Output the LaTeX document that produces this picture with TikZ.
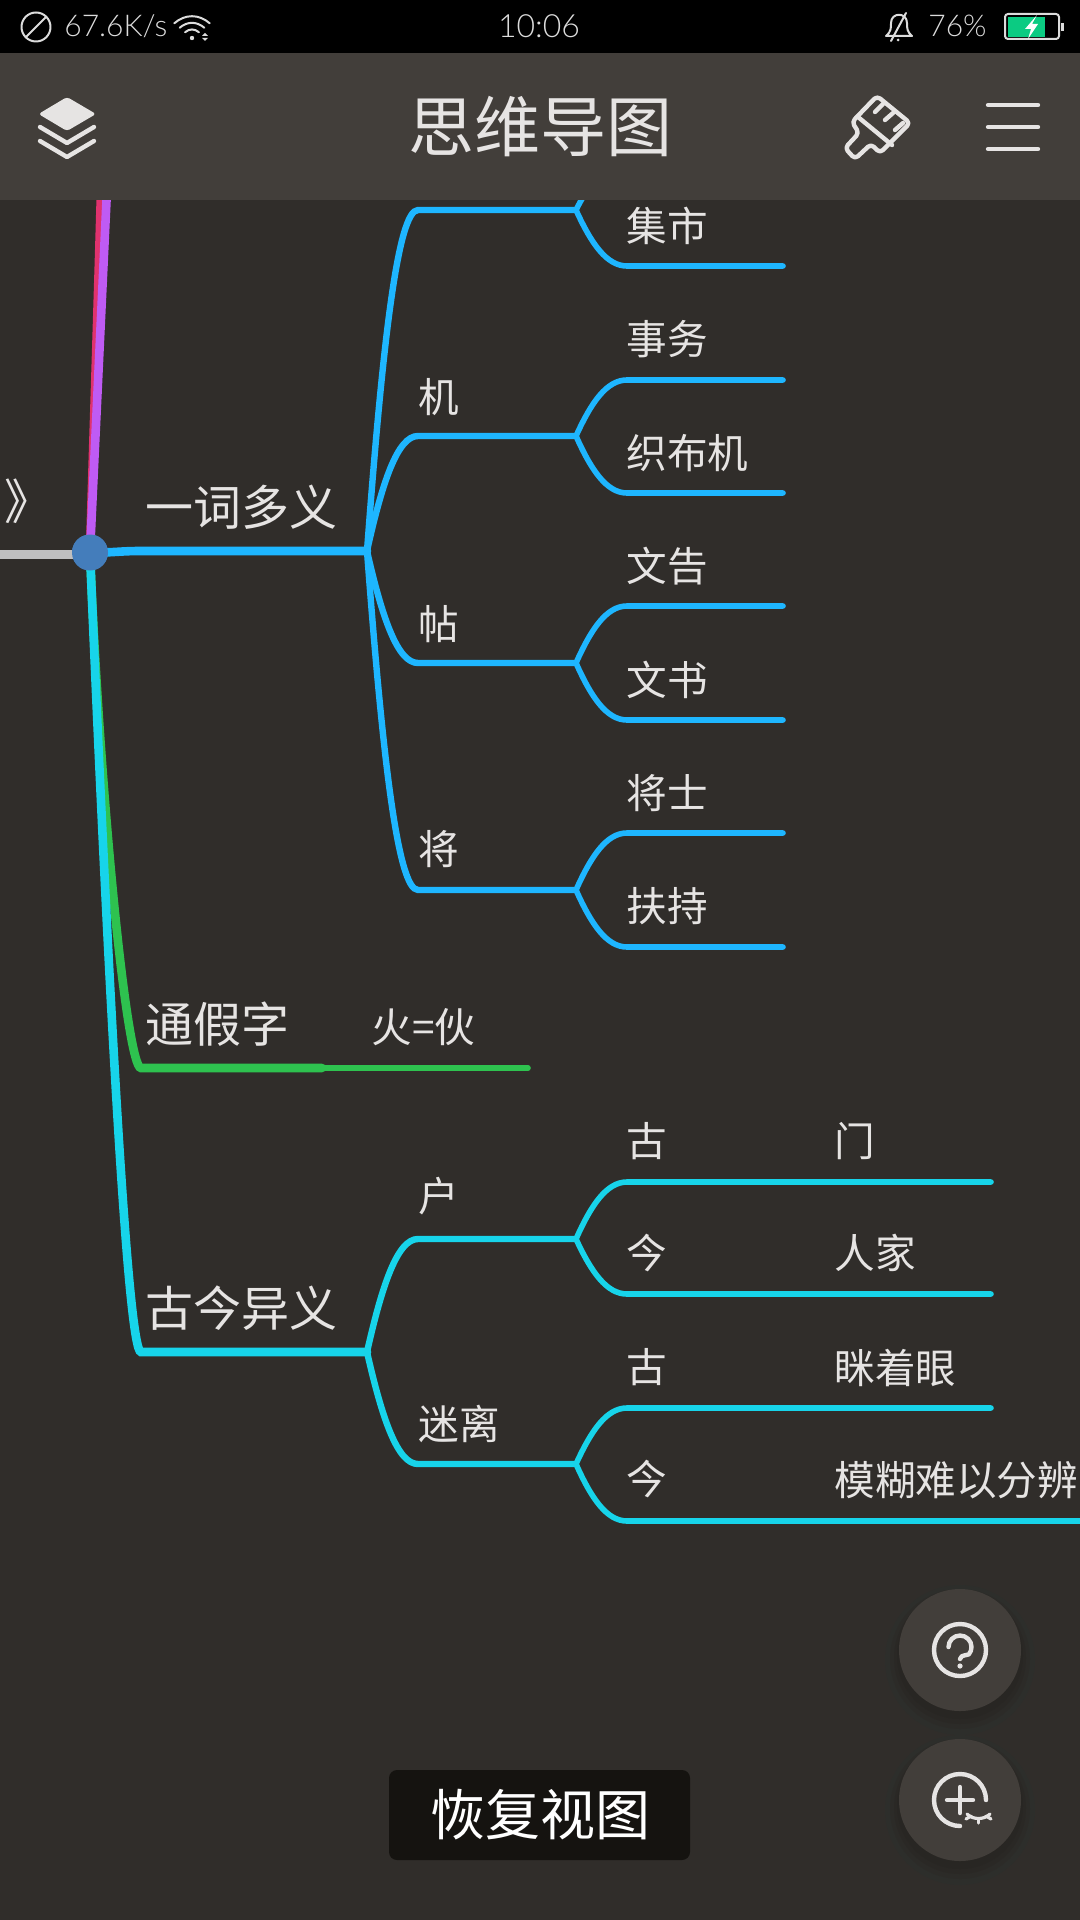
\documentclass[tikz,border=0pt]{standalone}
\usepackage{fontspec}
\setmainfont{Noto Sans CJK SC}
\newfontfamily\statfont{Lato Light}
\usetikzlibrary{calc}
\definecolor{pagebg}{HTML}{302D2A}
\definecolor{headbg}{HTML}{423E3A}
\definecolor{inktext}{HTML}{E6E4E3}
\definecolor{statgrey}{HTML}{DCDCDC}
\definecolor{skyline}{HTML}{1EB6FF}
\definecolor{tealline}{HTML}{17D4EA}
\definecolor{grassline}{HTML}{2EC24F}
\definecolor{violetline}{HTML}{BF5BF4}
\definecolor{roseline}{HTML}{E0326E}
\definecolor{hubblue}{HTML}{447DBB}
\tikzset{
	trunk/.style={line width=4.3pt, line cap=round},
	limb/.style={line width=3.2pt, line cap=round},
	twig/.style={line width=2.8pt, line cap=round},
	bigword/.style={anchor=west, inner sep=0pt, text=inktext, font=\fontsize{24}{24}\selectfont},
	word/.style={anchor=west, inner sep=0pt, text=inktext, font=\fontsize{20.3}{20.3}\selectfont},
	stat/.style={inner sep=0pt, text=statgrey, font=\statfont\fontsize{15}{15}\selectfont},
	icon/.style={draw=inktext, line width=2.2pt, line cap=round, line join=round},
	fine/.style={draw=statgrey, line width=1pt, line cap=round, line join=round},
}
\def\forkline[#1](#2)(#3)(#4){\draw[#1] let \p1=(#2),\p2=(#3) in (\p1) .. controls ({\x1+0.3*(\x2-\x1)},{\y1+0.6*(\y2-\y1)}) and ({\x2-0.4*(\x2-\x1)},{\y2}) .. (\p2) -- (#4);}
\begin{document}
\begin{tikzpicture}[x=0.5pt,y=-0.5pt]
	%%%%% START %%%%%
	\useasboundingbox (0,0) rectangle (1080,1920);
	\fill[pagebg] (0,0) rectangle (1080,1920);

	\coordinate (greyin) at (0,554.5);
	\node[circle, fill=hubblue, minimum size=18pt, inner sep=0pt] (hub) at (90,552.5) {};
	\coordinate (rosetop) at (101,190);
	\coordinate (violettop) at (107,190);

	\foreach \nm/\px/\py in {
		yici/367/551, jiA/418/210, jiAe/576/210, jiB/418/436, jiBe/576/436,
		jiC/418/663, jiCe/576/663, jiD/418/890, jiDe/576/890,
		twA/627/160, twAe/783/160, twB/627/266, twBe/783/266,
		twC/627/380, twCe/783/380, twD/627/493, twDe/783/493,
		twE/627/606, twEe/783/606, twF/627/720, twFe/783/720,
		twG/627/833, twGe/783/833, twH/627/947, twHe/783/947,
		tongA/141/1068, tongB/322/1068, tongC/528/1068,
		guA/141/1352, guB/367/1352,
		huA/418/1239, huAe/576/1239, miA/418/1464, miAe/576/1464,
		guaA/627/1182, guaB/991/1182, guaC/627/1294, guaD/991/1294,
		guaE/627/1408, guaF/991/1408, guaG/627/1521, guaH/1082/1521}
		\coordinate (\nm) at (\px,\py);

	\draw[trunk, line cap=butt, color=black!25!white] (greyin) -- (hub.center |- greyin);
	\draw[trunk, color=roseline] (hub.center) .. controls (93,450) and (98,300) .. (rosetop);
	\draw[trunk, color=violetline] (hub.center) -- (violettop);
	\draw[trunk, color=grassline] (hub.center) .. controls (100,800) and (127,1068) .. (tongA) -- (tongB);
	\draw[twig, color=grassline] (tongB) -- (tongC);
	\draw[trunk, color=tealline] (hub.center) .. controls (108.8,1000) and (128,1352) .. (guA) -- (guB);
	\draw[trunk, color=skyline] (hub.center) .. controls (110,553) and (120,551) .. (140,551) -- (yici);

	\forkline[limb, color=skyline](yici)(jiA)(jiAe);
	\forkline[limb, color=skyline](yici)(jiB)(jiBe);
	\forkline[limb, color=skyline](yici)(jiC)(jiCe);
	\forkline[limb, color=skyline](yici)(jiD)(jiDe);
	\forkline[twig, color=skyline](jiAe)(twA)(twAe);
	\forkline[twig, color=skyline](jiAe)(twB)(twBe);
	\forkline[twig, color=skyline](jiBe)(twC)(twCe);
	\forkline[twig, color=skyline](jiBe)(twD)(twDe);
	\forkline[twig, color=skyline](jiCe)(twE)(twEe);
	\forkline[twig, color=skyline](jiCe)(twF)(twFe);
	\forkline[twig, color=skyline](jiDe)(twG)(twGe);
	\forkline[twig, color=skyline](jiDe)(twH)(twHe);

	\forkline[limb, color=tealline](guB)(huA)(huAe);
	\forkline[limb, color=tealline](guB)(miA)(miAe);
	\forkline[twig, color=tealline](huAe)(guaA)(guaB);
	\forkline[twig, color=tealline](huAe)(guaC)(guaD);
	\forkline[twig, color=tealline](miAe)(guaE)(guaF);
	\forkline[twig, color=tealline](miAe)(guaG)(guaH);

	\fill[hubblue] (hub) circle (18);

	\node[bigword] (closing) at (4,501) {》};
	\node[bigword] (yiciword) at (145,507) {一词多义};
	\node[bigword] (tongword) at (145,1024) {通假字};
	\node[bigword] (guword) at (145,1308) {古今异义};

	\foreach \nm/\px/\py/\txt in {
		lblji/418/397/机, lbltie/418/624/帖, lbljiang/418/849/将,
		lblhu/418/1196/户, lblmili/418/1424/迷离, lblhuo/371/1027/火=伙,
		lblshi/626/226/集市, lblwu/626/339/事务, lblzhi/626/453/织布机,
		lblwen/626/566/文告, lblshu/626/680/文书, lblshe/626/793/将士,
		lblfu/626/906/扶持, lblguA/626/1141/古, lbljinA/626/1253/今,
		lblguB/626/1367/古, lbljinB/626/1479/今, lblmen/834/1141/门,
		lblren/834/1253/人家, lblmi/834/1368/眯着眼, lblmo/834/1480/模糊难以分辨}
		\node[word] (\nm) at (\px,\py) {\txt};

	%%% bars on top
	\fill[headbg] (0,53) rectangle (1080,200);
	\fill[black] (0,0) rectangle (1080,53);

	\node[inner sep=0pt, text=inktext, font=\fontsize{33}{33}\selectfont] (title) at (540,127) {思维导图};

	% layers
	\fill[inktext, rounded corners=1.5pt] (38.5,114) -- (67,97) -- (96,114) -- (67,131) -- cycle;
	\draw[icon] (40,127) -- (67,143) -- (94,127);
	\draw[icon] (40,141) -- (67,157) -- (94,141);

	% brush
	\draw[icon, rounded corners=2pt] (877,96) -- (910,123) -- (880,153) -- (871,144) -- (855,159) -- (845,148) -- (859,133) -- (852,122) -- cycle;
	\draw[icon] (858,117) -- (892,145);
	\draw[icon] (875,112) -- (883,104);
	\draw[icon] (885,120) -- (893,113);
	\draw[icon] (895,130) -- (903,123);

	% menu
	\foreach \py in {105,127,149}
		\draw[icon] (988,\py) -- (1038,\py);

	% status bar
	\draw[fine] (36,27) circle (14.5);
	\draw[fine] (26,37) -- (46,17);
	\node[stat, anchor=west] (speed) at (64,26) {67.6K/s};
	\fill[statgrey] (192,38) circle (2.2);
	\foreach \r in {9,16,23}
		\draw[fine] ({192-\r*0.77},{38-\r*0.64}) .. controls ({192-\r*0.3},{38-\r*1.05}) and ({192+\r*0.3},{38-\r*1.05}) .. ({192+\r*0.77},{38-\r*0.64});
	\fill[statgrey] (202,36) -- (208,36) -- (205,33) -- cycle;
	\fill[statgrey] (202,38) -- (208,38) -- (205,41) -- cycle;
	\node[stat, font=\statfont\fontsize{16}{16}\selectfont] (clock) at (539,26) {10:06};
	\draw[fine] (886,36) .. controls (891,32) and (891,28) .. (891,23) .. controls (891,12) and (907,12) .. (907,23) .. controls (907,28) and (907,32) .. (912,36) -- cycle;
	\fill[statgrey] (898,40) circle (1.5);
	\draw[fine] (906,13) -- (891,41);
	\node[stat, anchor=west] (percent) at (928,26) {76\%};
	\draw[fine, rounded corners=1.5pt] (1005,14) rectangle (1059,39);
	\fill[statgrey] (1061,23) rectangle (1064,31);
	\fill[color={rgb,255:red,11;green,203;blue,130}] (1008,17) rectangle (1045,37);
	\fill[white] (1037,15) -- (1025,29) -- (1031,29) -- (1028,39) -- (1038,24) -- (1032,24) -- cycle;

	% round buttons
	\foreach \cy in {1650,1800} {
		\fill[color={rgb,255:red,45;green,46;blue,43}] (960,\cy+10) circle (75);
		\fill[color={rgb,255:red,44;green,43;blue,40}] (960,\cy+9) circle (70);
		\fill[color={rgb,255:red,42;green,40;blue,37}] (960,\cy+8) circle (66);
		\fill[color={rgb,255:red,40;green,38;blue,35}] (960,\cy+6) circle (63);
		\fill[headbg] (960,\cy) circle (61);
	}
	\draw[icon] (960,1650) circle (26);
	\draw[icon] (948.5,1647) arc (180:400:11.5) .. controls (962,1656) and (960,1656) .. (960,1659);
	\fill[inktext] (960,1666) circle (2.6);
	\draw[icon] (986,1800) arc (0:-270:26);
	\draw[icon] (947,1800) -- (973,1800);
	\draw[icon] (960,1787) -- (960,1813);
	\draw[icon, line width=1.6pt] (967,1814) .. controls (973,1820) and (984,1820) .. (990,1814);
	\draw[icon, line width=1.6pt] (966,1819) -- (971,1816);
	\draw[icon, line width=1.6pt] (978.5,1819) -- (978.5,1823);
	\draw[icon, line width=1.6pt] (991,1819) -- (986,1816);

	% restore button
	\fill[color={rgb,255:red,21;green,19;blue,16}, rounded corners=4pt] (389,1770) rectangle (690,1860);
	\node[inner sep=0pt, text=white, font=\fontsize{27.5}{27.5}\selectfont] (restore) at (540,1815) {恢复视图};
	%%%%% END %%%%%
\end{tikzpicture}
\end{document}
